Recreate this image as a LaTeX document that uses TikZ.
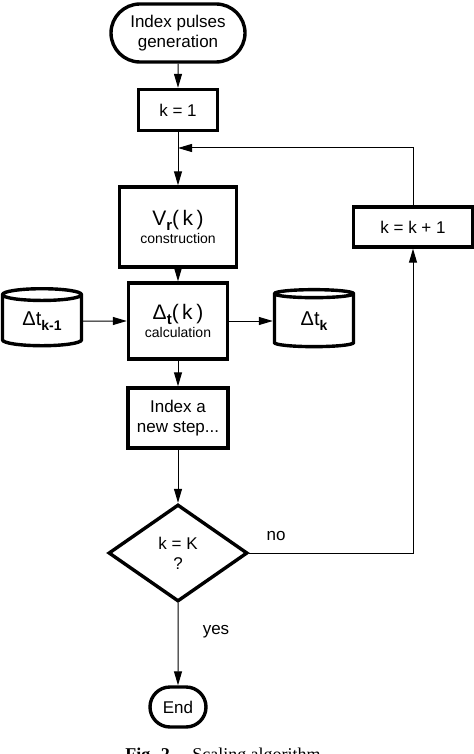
\documentclass[tikz,border=0pt]{standalone}
\usepackage{fontspec}
\setmainfont{Liberation Sans}
\newfontfamily\capfont{Liberation Serif}
\usetikzlibrary{arrows.meta,shapes.geometric,shapes.misc}

\begin{document}
\begin{tikzpicture}[x=0.5pt, y=-0.5pt, font=\fontsize{8.5}{10}\selectfont,
    box/.style={draw, line width=1.7pt, align=center, inner sep=1pt},
    term/.style={draw, line width=1.7pt, rounded rectangle, align=center, inner sep=1pt},
    store/.style={draw, line width=1.7pt, cylinder, shape border rotate=90, aspect=0.3,
      minimum width=39.5pt, minimum height=28.5pt, inner sep=0pt},
    test/.style={draw, line width=1.7pt, diamond, aspect=1.43, align=center,
      minimum width=69.5pt, minimum height=48.5pt, inner sep=0pt},
    arrow/.style={-{Triangle[length=7pt, width=4pt]}, line width=0.5pt},
    small/.style={font=\fontsize{7}{8}\selectfont}]
  \useasboundingbox (0,0) rectangle (474,754);
  \node[term, minimum width=69pt, minimum height=29pt] (start) at (178, 33) {Index pulses\\generation};
  \node[box, minimum width=39.5pt, minimum height=20.5pt] (kone) at (178, 110) {k = 1};
  \node[box, minimum width=58.5pt, minimum height=40pt] (vr) at (178, 227)
    {\fontsize{10.5}{11}\selectfont V\raisebox{-0.45ex}{\fontsize{7.5}{8}\selectfont\bfseries r}(\,k\,)\\[-1pt]
     {\fontsize{7}{8}\selectfont construction}};
  \node[box, minimum width=49.5pt, minimum height=38pt] (dt) at (178, 321)
    {\fontsize{10.5}{11}\selectfont Δ\raisebox{-0.45ex}{\fontsize{7.5}{8}\selectfont\bfseries t}(\,k\,)\\[-1pt]
     {\fontsize{7}{8}\selectfont calculation}};
  \node[store] (dprev) at (42, 321)
    {\fontsize{10}{11}\selectfont Δt\raisebox{-0.45ex}{\fontsize{7}{8}\selectfont\bfseries k-1}};
  \node[store] (dnext) at (314, 321)
    {\fontsize{10}{11}\selectfont Δt\raisebox{-0.45ex}{\fontsize{7}{8}\selectfont\bfseries k}};
  \node[box, minimum width=50pt, minimum height=30pt] (idx) at (178, 418) {Index a\\new step...};
  \node[test] (dec) at (178, 553) {k = K\\?};
  \node[term, minimum width=30pt, minimum height=20pt] (end) at (178, 707) {End};
  \node[box, minimum width=59.5pt, minimum height=20pt] (kinc) at (413, 227) {k = k + 1};
  \coordinate (join) at (178, 148);
  \coordinate (corner) at (413, 553);
  \draw[arrow] (start) -- (kone);
  \draw[arrow] (kone) -- (vr);
  \draw[arrow] (vr) -- (dt);
  \draw[arrow] (dprev) -- (dt);
  \draw[arrow] (dt) -- (dnext);
  \draw[arrow] (dt) -- (idx);
  \draw[arrow] (idx) -- (dec.north);
  \draw[arrow] (dec.south) -- (end);
  \draw[arrow] (dec.east) -- (corner) -- (kinc.south);
  \draw[arrow] (kinc.north) |- (join);
  \node at (276, 536) {no};
  \node at (216, 632) {yes};
  \node[font=\capfont\fontsize{9}{10}\selectfont, anchor=north, inner sep=0pt] (caption) at (223, 748)
    {\textbf{Fig. 2.}\quad Scaling algorithm};
\end{tikzpicture}
\end{document}
